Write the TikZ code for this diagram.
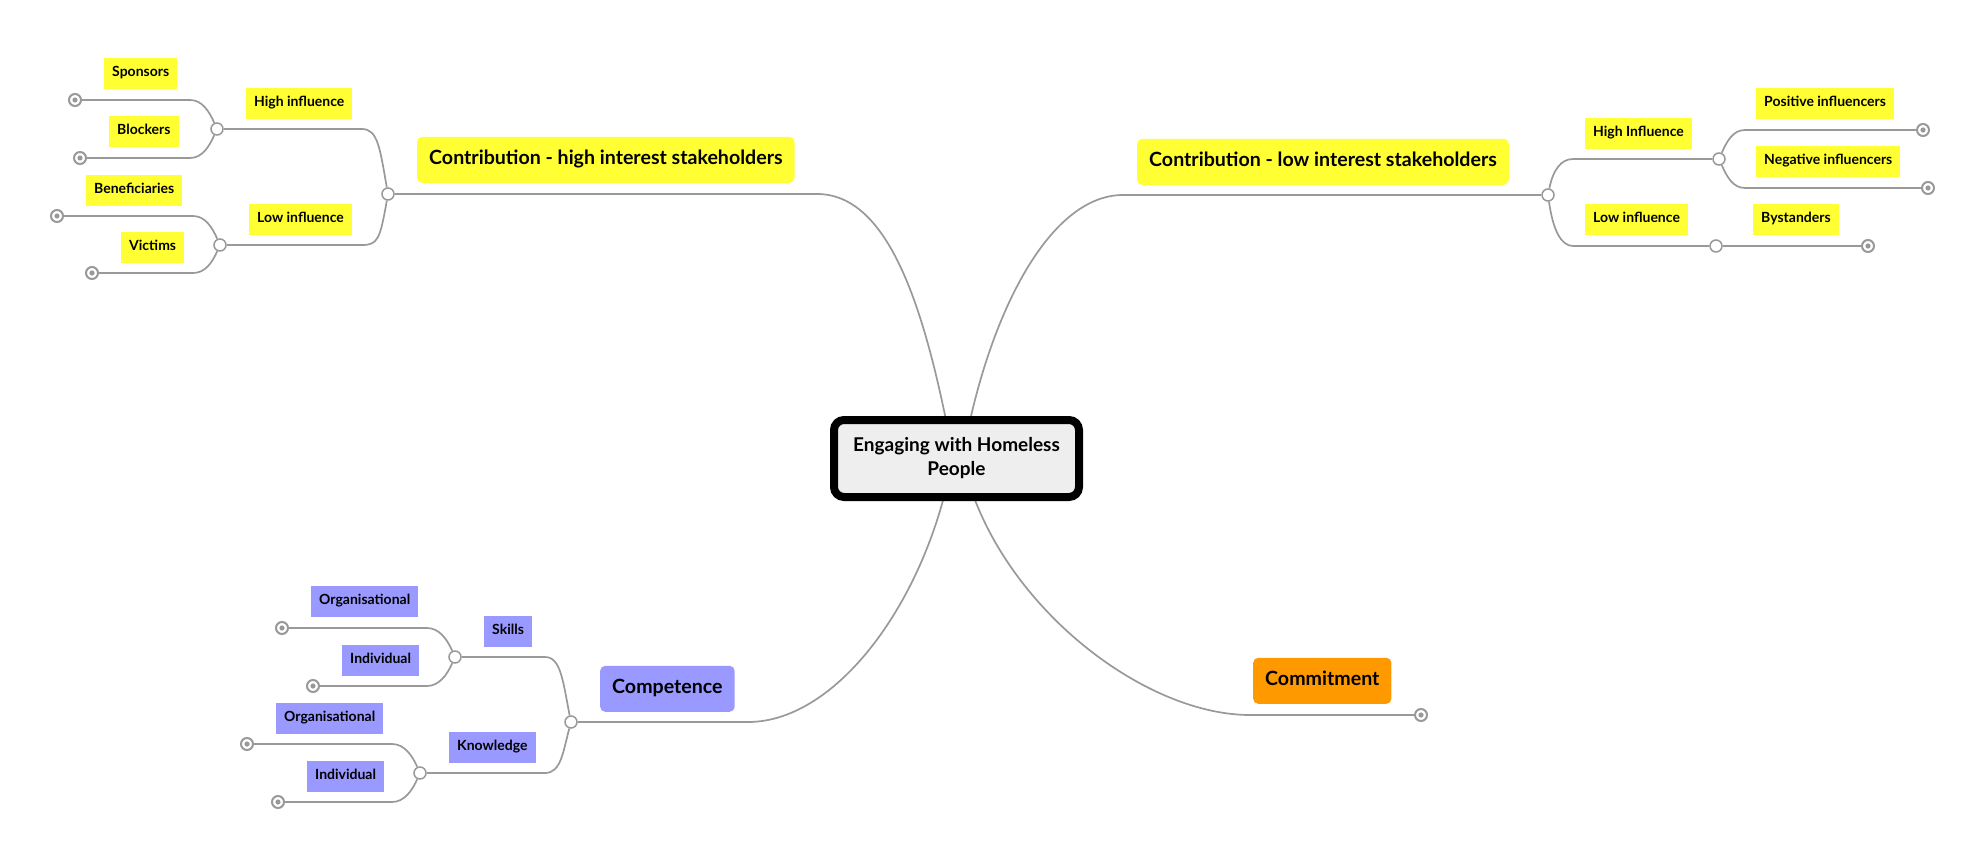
\documentclass[tikz,border=0pt]{standalone}
\usepackage{fontspec}
\setmainfont{Lato}
\usetikzlibrary{positioning}
\usetikzlibrary{backgrounds}
\definecolor{stick}{HTML}{FFFF33}
\definecolor{lilac}{HTML}{9999FF}
\definecolor{amber}{HTML}{FF9900}
\definecolor{wire}{HTML}{999999}
\definecolor{paper}{HTML}{EEEEEE}
\tikzstyle{hub}=[rectangle, draw=black, line width=8pt, fill=paper, rounded corners=10pt, minimum width=245pt, minimum height=77pt, align=center, font=\fontsize{19}{24}\selectfont\bfseries]
\tikzstyle{topicbox}=[rectangle, rounded corners=5pt, anchor=south west, inner xsep=12pt, minimum height=46pt, text height=14pt, text depth=4pt, font=\fontsize{19.6}{23}\selectfont\bfseries]
\tikzstyle{subbox}=[rectangle, anchor=south west, inner xsep=8pt, minimum height=31pt, text height=10pt, text depth=3pt, font=\fontsize{14}{16}\selectfont\bfseries]
\tikzstyle{knot}=[circle, draw=wire, line width=1.5pt, fill=white, inner sep=0pt, minimum size=12pt]
\tikzstyle{leafdot}=[circle, draw=wire, line width=2pt, fill=white, inner sep=0pt, minimum size=12pt, path picture={\fill[wire] (path picture bounding box.center) circle (2.6pt);}]
\tikzstyle{link}=[draw=wire, line width=1.7pt]

\begin{document}
\begin{tikzpicture}[x=1pt, y=-1pt]
    \useasboundingbox (0,0) rectangle (1985,850);

    % centre
    \node[hub] (hub) at (956.5,458.5) {Engaging with Homeless\\People};

    % high interest stakeholders
    \node[topicbox, fill=stick] (hiTop) at (417,183) {Contribution - high interest stakeholders};
    \coordinate (hiBend) at (817,194);
    \node[knot] (hiJ) at (388,194) {};
    \coordinate (hiInfB) at (362,129);
    \coordinate (loInfB) at (362,245);
    \node[knot] (hiInfJ) at (217,129) {};
    \node[knot] (loInfJ) at (220,245) {};
    \node[subbox, fill=stick] (hiInf) at (246,119) {High influence};
    \node[subbox, fill=stick] (loInf) at (249,235) {Low influence};

    \node[leafdot] (spT) at (75,100) {};
    \node[leafdot] (blT) at (80,158) {};
    \node[leafdot] (beT) at (57,216) {};
    \node[leafdot] (viT) at (92,273) {};
    \coordinate (spB) at (190,100);
    \coordinate (blB) at (190,158);
    \coordinate (beB) at (193,216);
    \coordinate (viB) at (193,273);
    \node[subbox, fill=stick] (sponsors) at (104,89) {Sponsors};
    \node[subbox, fill=stick] (blockers) at (109,147) {Blockers};
    \node[subbox, fill=stick] (benef) at (86,206) {Beneficiaries};
    \node[subbox, fill=stick] (victims) at (121,263) {Victims};

    % low interest stakeholders
    \node[topicbox, fill=stick] (loTop) at (1137,185) {Contribution - low interest stakeholders};
    \coordinate (loBend) at (1123,195);
    \node[knot] (loJ) at (1548,195) {};
    \coordinate (hInfB) at (1573,159);
    \coordinate (lInfB) at (1573,246);
    \node[knot] (hInfJ) at (1719,159) {};
    \node[knot] (lInfJ) at (1716,246) {};
    \node[subbox, fill=stick] (hInf) at (1585,149) {High Influence};
    \node[subbox, fill=stick] (lInf) at (1585,235) {Low influence};

    \node[leafdot] (posT) at (1923,130) {};
    \node[leafdot] (negT) at (1928,188) {};
    \node[leafdot] (byT) at (1868,246) {};
    \coordinate (posB) at (1745,130);
    \coordinate (negB) at (1745,188);
    \node[subbox, fill=stick] (positive) at (1756,119) {Positive influencers};
    \node[subbox, fill=stick] (negative) at (1756,177) {Negative influencers};
    \node[subbox, fill=stick] (bystand) at (1753,235) {Bystanders};

    % competence
    \node[topicbox, fill=lilac] (coTop) at (600,712) {Competence};
    \coordinate (coBend) at (748,722);
    \node[knot] (coJ) at (571,722) {};
    \coordinate (skB) at (545,657);
    \coordinate (knB) at (545,773);
    \node[knot] (skJ) at (455,657) {};
    \node[knot] (knJ) at (420,773) {};
    \node[subbox, fill=lilac] (skills) at (484,647) {Skills};
    \node[subbox, fill=lilac] (knowl) at (449,763) {Knowledge};

    \node[leafdot] (o1T) at (282,628) {};
    \node[leafdot] (i1T) at (313,686) {};
    \node[leafdot] (o2T) at (247,744) {};
    \node[leafdot] (i2T) at (278,802) {};
    \coordinate (o1B) at (427,628);
    \coordinate (i1B) at (427,686);
    \coordinate (o2B) at (392,744);
    \coordinate (i2B) at (392,802);
    \node[subbox, fill=lilac] (org1) at (311,617) {Organisational};
    \node[subbox, fill=lilac] (ind1) at (342,676) {Individual};
    \node[subbox, fill=lilac] (org2) at (276,734) {Organisational};
    \node[subbox, fill=lilac] (ind2) at (307,792) {Individual};

    % commitment
    \node[topicbox, fill=amber] (cmTop) at (1253,704) {Commitment};
    \coordinate (cmBend) at (1250,715);
    \node[leafdot] (cmT) at (1421,715) {};

    % connectors
    \begin{scope}[on background layer]
        \draw[link] ([xshift=-3pt]hub.center) .. controls +(-26,-140) and +(75,0) .. (hiBend) -- (hiJ);
        \draw[link] ([xshift=6pt]hub.center) .. controls +(24,-140) and +(-75,0) .. (loBend) -- (loJ);
        \draw[link] ([xshift=-4pt]hub.center) .. controls +(-25,140) and +(90,0) .. (coBend) -- (coJ);
        \draw[link] ([xshift=6pt]hub.center) .. controls +(30,140) and +(-110,0) .. (cmBend) -- (cmT);

        \draw[link] (hiJ) .. controls +(-8,-45) and +(16,0) .. (hiInfB) -- (hiInfJ);
        \draw[link] (hiJ) .. controls +(-8,45) and +(16,0) .. (loInfB) -- (loInfJ);
        \draw[link] (hiInfJ) .. controls +(-8,-18) and +(12,0) .. (spB) -- (spT);
        \draw[link] (hiInfJ) .. controls +(-8,18) and +(12,0) .. (blB) -- (blT);
        \draw[link] (loInfJ) .. controls +(-8,-18) and +(12,0) .. (beB) -- (beT);
        \draw[link] (loInfJ) .. controls +(-8,18) and +(12,0) .. (viB) -- (viT);

        \draw[link] (loJ) .. controls +(5,-25) and +(-12,0) .. (hInfB) -- (hInfJ);
        \draw[link] (loJ) .. controls +(5,35) and +(-12,0) .. (lInfB) -- (lInfJ);
        \draw[link] (hInfJ) .. controls +(8,-18) and +(-12,0) .. (posB) -- (posT);
        \draw[link] (hInfJ) .. controls +(8,18) and +(-12,0) .. (negB) -- (negT);
        \draw[link] (lInfJ) -- (byT);

        \draw[link] (coJ) .. controls +(-8,-40) and +(16,0) .. (skB) -- (skJ);
        \draw[link] (coJ) .. controls +(-8,30) and +(16,0) .. (knB) -- (knJ);
        \draw[link] (skJ) .. controls +(-8,-18) and +(12,0) .. (o1B) -- (o1T);
        \draw[link] (skJ) .. controls +(-8,18) and +(12,0) .. (i1B) -- (i1T);
        \draw[link] (knJ) .. controls +(-8,-18) and +(12,0) .. (o2B) -- (o2T);
        \draw[link] (knJ) .. controls +(-8,18) and +(12,0) .. (i2B) -- (i2T);
    \end{scope}
\end{tikzpicture}
\end{document}
